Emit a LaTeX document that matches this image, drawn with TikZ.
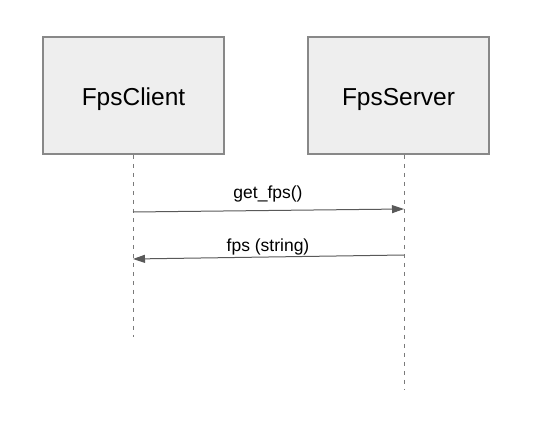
\documentclass[tikz,border=0pt]{standalone}
\usepackage{fontspec}
\setmainfont{Liberation Sans}
\usetikzlibrary{arrows.meta}
\definecolor{boxfill}{HTML}{EEEEEE}
\definecolor{boxline}{HTML}{888888}
\definecolor{msgline}{HTML}{595959}
\newcommand{\lowertext}[1]{\raisebox{-4pt}[18pt][5pt]{#1}}
\begin{document}
\begin{tikzpicture}[x=1pt,y=-1pt,
  actor/.style={draw=boxline,line width=1.5pt,fill=boxfill,minimum width=181pt,minimum height=117pt,inner sep=0pt,font=\fontsize{24.5}{28}\selectfont},
  lifeline/.style={draw=boxline!90!black,line width=1pt,dash pattern=on 4pt off 5pt},
  msg/.style={draw=msgline,line width=1pt,-{Triangle[length=12pt,width=8pt]}},
  lbl/.style={font=\fontsize{17.5}{20}\selectfont,inner sep=0pt}]
\useasboundingbox (0,0) rectangle (554,425);
\node[actor] (client) at (133.5,95.5) {\lowertext{FpsClient}};
\node[actor] (server) at (398.5,95.5) {\lowertext{FpsServer}};
\coordinate (cend) at (133,337);
\coordinate (send) at (404,390);
\coordinate (c1) at (133,212);
\coordinate (s1) at (404,209);
\coordinate (s2) at (404,255);
\coordinate (c2) at (133,259);
\draw[lifeline] (client.south -| cend) -- (cend);
\draw[lifeline] (server.south -| send) -- (send);
\draw[msg] (c1) -- (s1);
\draw[msg] (s2) -- (c2);
\node[lbl] (l1) at (268,194) {get\_fps()};
\node[lbl] (l2) at (268,247) {fps (string)};
\end{tikzpicture}
\end{document}
